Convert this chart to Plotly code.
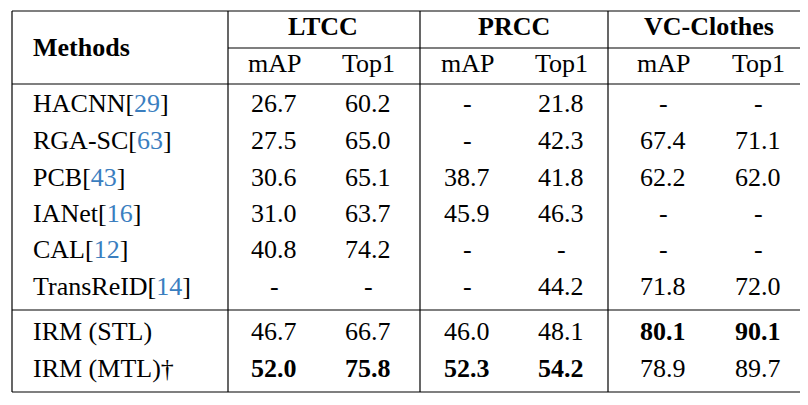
import plotly.graph_objects as go

groups = ["LTCC", "PRCC", "VC-Clothes"]
subcols = ["mAP", "Top1", "mAP", "Top1", "mAP", "Top1"]
methods = ["HACNN", "RGA-SC", "PCB", "IANet", "CAL", "TransReID", "IRM (STL)", "IRM (MTL)†"]
cites = ["29", "63", "43", "16", "12", "14", "", ""]
values = [
    ["26.7", "60.2", "-", "21.8", "-", "-"],
    ["27.5", "65.0", "-", "42.3", "67.4", "71.1"],
    ["30.6", "65.1", "38.7", "41.8", "62.2", "62.0"],
    ["31.0", "63.7", "45.9", "46.3", "-", "-"],
    ["40.8", "74.2", "-", "-", "-", "-"],
    ["-", "-", "-", "44.2", "71.8", "72.0"],
    ["46.7", "66.7", "46.0", "48.1", "80.1", "90.1"],
    ["52.0", "75.8", "52.3", "54.2", "78.9", "89.7"],
]
bold = [[False]*6]*6 + [[False, False, False, False, True, True], [True, True, True, True, False, False]]

W, H = 808, 405
col_x = [266, 360, 459, 553, 655, 750]
group_x = [315, 506, 701]
row_y = [98, 135, 172, 208, 244, 281, 326, 363]
FONT = "Liberation Serif"
FS = 26
BLUE = "#3a7ebf"
DY = -3

fig = go.Figure()
ann = []
def add(x, y, t, xanchor="center"):
    ann.append(dict(x=x, y=y + DY, text=t, showarrow=False, xref="x", yref="y",
                    xanchor=xanchor, yanchor="middle", borderpad=0,
                    font=dict(family=FONT, size=FS, color="black")))

add(24, 42, "<b>Methods</b>", "left")
for g, x in zip(groups, group_x):
    add(x, 21, f"<b>{g}</b>")
for s, x in zip(subcols, col_x):
    add(x, 58, s)
for i, m in enumerate(methods):
    t = m + (f"[<span style='color:{BLUE}'>{cites[i]}</span>]" if cites[i] else "")
    add(24, row_y[i], t, "left")
    for j, v in enumerate(values[i]):
        add(col_x[j], row_y[i], f"<b>{v}</b>" if bold[i][j] else v)

shapes = []
def line(x0, y0, x1, y1, w=1.2):
    shapes.append(dict(type="line", x0=x0, y0=y0, x1=x1, y1=y1, xref="x", yref="y",
                       line=dict(color="black", width=w)))
line(4, 3, 804, 3)
line(220, 40, 804, 40)
line(4, 76, 804, 76)
line(4, 302, 804, 302)
line(4, 384, 804, 384)
for x in [4, 220, 412, 600, 804]:
    line(x, 3, x, 384)

fig.update_layout(width=W, height=H, margin=dict(l=0, r=0, t=0, b=0),
                  paper_bgcolor="white", plot_bgcolor="white",
                  xaxis=dict(range=[0, W], visible=False, fixedrange=True),
                  yaxis=dict(range=[H, 0], visible=False, fixedrange=True),
                  annotations=ann, shapes=shapes, showlegend=False)
fig.write_html("out.html")
